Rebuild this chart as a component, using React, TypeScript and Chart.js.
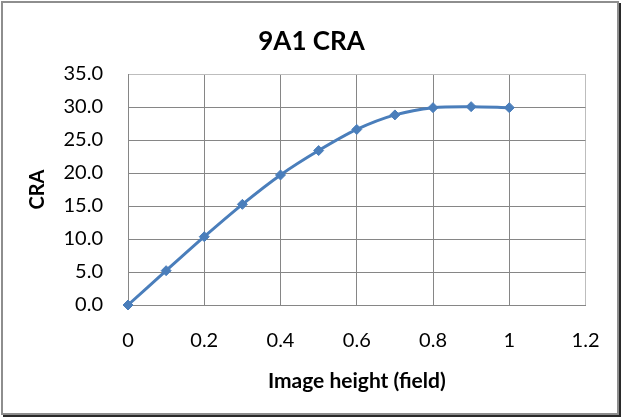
import React, { useEffect, useRef } from "react";
import { Chart, registerables } from "chart.js";

Chart.register(...registerables);

const titleText = "9A1 CRA";
const xAxisTitle = "Image height (field)";
const yAxisTitle = "CRA";
const fieldValues = [0, 0.1, 0.2, 0.3, 0.4, 0.5, 0.6, 0.7, 0.8, 0.9, 1.0];
const craValues = [0, 5.2, 10.35, 15.25, 19.7, 23.4, 26.6, 28.8, 29.9, 30.05, 29.9];
const xTicks = [0, 0.2, 0.4, 0.6, 0.8, 1, 1.2];
const yTicks = [0, 5, 10, 15, 20, 25, 30, 35];

const FONT = "Lato, 'Open Sans', sans-serif";
const GRID = "#868686";
const EDGE = "#bdbdbd";
const BLUE = "#4a7ebb";

export default function App() {
  const ref = useRef<HTMLCanvasElement | null>(null);

  useEffect(() => {
    document.body.style.margin = "0";
    const canvas = ref.current;
    if (!canvas) return;
    const chart = new Chart(canvas, {
      type: "line",
      data: {
        datasets: [
          {
            data: fieldValues.map((x, i) => ({ x, y: craValues[i] })),
            borderColor: BLUE,
            backgroundColor: BLUE,
            borderWidth: 3,
            pointStyle: "rectRot",
            pointRadius: 5,
            pointBorderWidth: 1,
            pointBackgroundColor: BLUE,
            pointBorderColor: BLUE,
            tension: 0.3,
            fill: false,
            clip: false,
          },
        ],
      },
      options: {
        responsive: false,
        animation: false,
        events: [],
        layout: { padding: { left: 0, right: 0, top: 0, bottom: 0 } },
        plugins: {
          legend: { display: false },
          tooltip: { enabled: false },
          title: {
            display: true,
            text: titleText,
            color: "#000",
            font: { family: FONT, size: 26, weight: "bold" },
            padding: { top: 25.9, bottom: 16.9 },
          },
        },
        scales: {
          x: {
            type: "linear",
            min: 0,
            max: 1.2,
            afterBuildTicks: (s: any) => {
              s.ticks = xTicks.map((v) => ({ value: v }));
            },
            afterFit: (s: any) => {
              s.height = 112;
            },
            grid: {
              color: (c: any) => (c.tick && c.tick.value === 1.2 ? EDGE : GRID),
              drawTicks: false,
              lineWidth: 1,
            },
            border: { color: GRID, width: 1 },
            ticks: {
              padding: 23.5,
              color: "#000",
              font: { family: FONT, size: 20 },
              callback: (v: any) => String(Number(Number(v).toFixed(1))),
            },
            title: {
              display: true,
              text: xAxisTitle,
              color: "#000",
              font: { family: FONT, size: 21, weight: "bold" },
              padding: { top: 0, bottom: 23.4 },
            },
          },
          y: {
            type: "linear",
            min: 0,
            max: 35,
            afterBuildTicks: (s: any) => {
              s.ticks = yTicks.map((v) => ({ value: v }));
            },
            afterFit: (s: any) => {
              s.width = 128;
            },
            grid: {
              color: (c: any) => (c.tick && c.tick.value === 35 ? EDGE : GRID),
              drawTicks: false,
              lineWidth: 1,
            },
            border: { color: GRID, width: 1 },
            ticks: {
              padding: 25,
              color: "#000",
              font: { family: FONT, size: 20 },
              callback: (v: any) => Number(v).toFixed(1),
            },
            title: {
              display: true,
              text: yAxisTitle,
              color: "#000",
              font: { family: FONT, size: 20, weight: "bold" },
              padding: { top: 25.5, bottom: 0 },
            },
          },
          yRight: {
            type: "linear",
            position: "right",
            display: true,
            min: 0,
            max: 35,
            afterFit: (s: any) => {
              s.width = 35;
            },
            grid: { display: false, drawTicks: false },
            border: { display: false },
            ticks: { display: false },
          },
        },
      },
    });
    return () => chart.destroy();
  }, []);

  return (
    <div style={{ position: "fixed", left: 0, top: 0, width: 623, height: 417, background: "#fff" }}>
      <canvas ref={ref} width={623} height={417} style={{ display: "block" }} />
      <div
        style={{
          position: "absolute",
          left: 1,
          top: 1,
          width: 614,
          height: 410,
          border: "2px solid #8e8e8e",
          boxShadow: "2px 2px 0 #2a2a2a",
          pointerEvents: "none",
        }}
      />
    </div>
  );
}
